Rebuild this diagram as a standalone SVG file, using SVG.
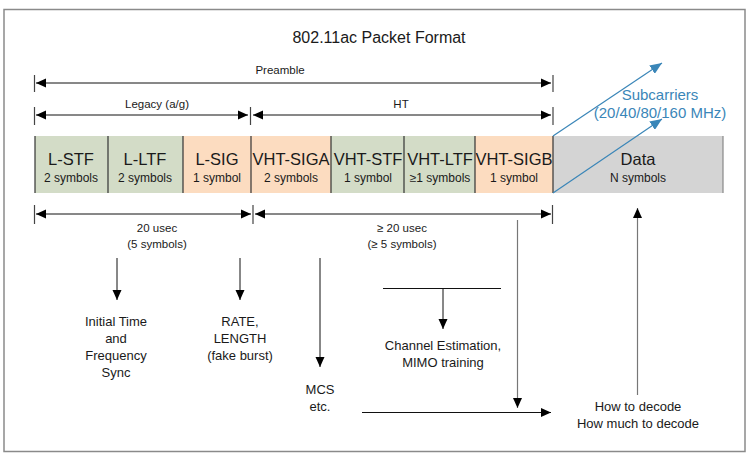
<svg xmlns="http://www.w3.org/2000/svg" width="751" height="455" viewBox="0 0 751 455">
<style>
text{font-family:"Liberation Sans",Arial,sans-serif;fill:#1a1a1a;text-anchor:middle}
.title{font-size:16px}
.nar{font-size:11.5px}
.main{font-size:16.5px}
.sub{font-size:12px}
.low{font-size:13px}
.blue{font-size:15px;fill:#3a86b8}
.ln{stroke:#111;stroke-width:1;fill:none}
.gl{stroke:#777;stroke-width:1.2;fill:none}
.tk{stroke:#444;stroke-width:1.2}
.sep{stroke:#333;stroke-width:1.2}
.dbl{stroke:#111;stroke-width:1;marker-start:url(#ah);marker-end:url(#ah)}
.one{marker-end:url(#ah)}
.bl{stroke:#3a86b8;stroke-width:1.2;fill:none;marker-end:url(#bh)}
</style>
<defs>
<marker id="ah" viewBox="0 0 10 10" refX="10" refY="5" markerWidth="10" markerHeight="10" markerUnits="userSpaceOnUse" orient="auto-start-reverse"><path d="M0,0.5 L10,5 L0,9.5 z" fill="#000"/></marker>
<marker id="bh" viewBox="0 0 12 10" refX="12" refY="5" markerWidth="12" markerHeight="10" markerUnits="userSpaceOnUse" orient="auto"><path d="M0,0 L12,5 L0,10 z" fill="#3a86b8"/></marker>
</defs>
<rect x="4" y="9.5" width="741" height="442" fill="#fff" stroke="#8a8a8a" stroke-width="1.5"/>
<text class="title" x="379" y="43">802.11ac Packet Format</text>

<g id="fields">
<g id="lstf"><rect x="35" y="136" width="73" height="57" fill="#d3dcc7"/><text class="main" x="71" y="165">L-STF</text><text class="sub" x="71" y="182">2 symbols</text></g>
<g id="lltf"><rect x="108" y="136" width="75" height="57" fill="#d3dcc7"/><text class="main" x="145" y="165">L-LTF</text><text class="sub" x="145" y="182">2 symbols</text></g>
<g id="lsig"><rect x="183" y="136" width="68" height="57" fill="#fcdcc0"/><text class="main" x="217" y="165">L-SIG</text><text class="sub" x="217" y="182">1 symbol</text></g>
<g id="vhtsiga"><rect x="251" y="136" width="80" height="57" fill="#fcdcc0"/><text class="main" x="291" y="165">VHT-SIGA</text><text class="sub" x="291" y="182">2 symbols</text></g>
<g id="vhtstf"><rect x="331" y="136" width="73" height="57" fill="#d3dcc7"/><text class="main" x="368" y="165">VHT-STF</text><text class="sub" x="368" y="182">1 symbol</text></g>
<g id="vhtltf"><rect x="404" y="136" width="71" height="57" fill="#d3dcc7"/><text class="main" x="440" y="165">VHT-LTF</text><text class="sub" x="440" y="182">≥1 symbols</text></g>
<g id="vhtsigb"><rect x="475" y="136" width="78" height="57" fill="#fcdcc0"/><text class="main" x="514" y="165">VHT-SIGB</text><text class="sub" x="514" y="182">1 symbol</text></g>
<g id="data"><rect x="553" y="136" width="170" height="57" fill="#d4d4d4"/><text class="main" x="638" y="165">Data</text><text class="sub" x="638" y="182">N symbols</text></g>
<g id="separators">
<line class="sep" x1="35" y1="136" x2="35" y2="193"/>
<line class="sep" x1="108" y1="136" x2="108" y2="193"/>
<line class="sep" x1="183" y1="136" x2="183" y2="193"/>
<line class="sep" x1="251" y1="136" x2="251" y2="193"/>
<line class="sep" x1="331" y1="136" x2="331" y2="193"/>
<line class="sep" x1="404" y1="136" x2="404" y2="193"/>
<line class="sep" x1="475" y1="136" x2="475" y2="193"/>
<line class="sep" x1="553" y1="136" x2="553" y2="193"/>
<line x1="723" y1="136" x2="723" y2="193" stroke="#888" stroke-width="1.2"/>
</g>
</g>

<g id="spans">
<line class="tk" x1="34.5" y1="75" x2="34.5" y2="92"/>
<line class="tk" x1="553" y1="75" x2="553" y2="92"/>
<line class="dbl" x1="36" y1="83" x2="551" y2="83"/>
<text class="nar" x="280" y="74">Preamble</text>
<line class="tk" x1="34.5" y1="107" x2="34.5" y2="125"/>
<line class="tk" x1="250.5" y1="107" x2="250.5" y2="125"/>
<line class="tk" x1="553" y1="107" x2="553" y2="125"/>
<line class="dbl" x1="36" y1="115" x2="248" y2="115"/>
<line class="dbl" x1="253" y1="115" x2="551" y2="115"/>
<text class="nar" x="157" y="108">Legacy (a/g)</text>
<text class="nar" x="401" y="108">HT</text>
<line class="tk" x1="34.5" y1="205" x2="34.5" y2="224"/>
<line class="tk" x1="253" y1="205" x2="253" y2="224"/>
<line class="tk" x1="552.5" y1="205" x2="552.5" y2="224"/>
<line class="dbl" x1="36" y1="214" x2="251" y2="214"/>
<line class="dbl" x1="255" y1="214" x2="551" y2="214"/>
<text class="nar" x="157" y="232">20 usec</text>
<text class="nar" x="157" y="248">(5 symbols)</text>
<text class="nar" x="402" y="232">≥ 20 usec</text>
<text class="nar" x="402" y="248">(≥ 5 symbols)</text>
</g>

<g id="subcarriers">
<line class="bl" x1="553" y1="136" x2="662" y2="63"/>
<line class="bl" x1="553" y1="193" x2="662" y2="119"/>
<text class="blue" x="660" y="100">Subcarriers</text>
<text class="blue" x="660" y="118">(20/40/80/160 MHz)</text>
</g>

<g id="connectors">
<line class="ln one" x1="117" y1="258" x2="117" y2="300"/>
<line class="ln one" x1="240" y1="258" x2="240" y2="300"/>
<line class="ln one" x1="320" y1="258" x2="320" y2="367"/>
<line class="ln" x1="383" y1="288.5" x2="501" y2="288.5"/>
<line class="ln one" x1="443" y1="288.5" x2="443" y2="329"/>
<line class="gl one" x1="517.5" y1="220" x2="517.5" y2="408"/>
<line class="ln one" x1="362" y1="412.5" x2="551" y2="412.5"/>
<line class="gl one" x1="637.5" y1="395" x2="637.5" y2="208"/>
</g>

<g id="sync"><text class="low" x="116" y="326">Initial Time</text><text class="low" x="116" y="343">and</text><text class="low" x="116" y="360">Frequency</text><text class="low" x="116" y="377">Sync</text></g>
<g id="rate"><text class="low" x="240" y="326">RATE,</text><text class="low" x="240" y="343">LENGTH</text><text class="low" x="240" y="360">(fake burst)</text></g>
<g id="mcs"><text class="low" x="320" y="394">MCS</text><text class="low" x="320" y="411">etc.</text></g>
<g id="channel"><text class="low" x="443" y="350">Channel Estimation,</text><text class="low" x="443" y="367">MIMO training</text></g>
<g id="decode"><text class="low" x="638" y="411">How to decode</text><text class="low" x="638" y="428">How much to decode</text></g>
</svg>
